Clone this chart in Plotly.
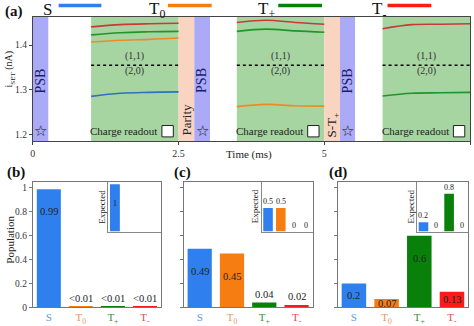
import plotly.graph_objects as go

# ---------------- data: panel (a) ----------------
phase_start = [0.0, 0.27, 1.0, 2.5, 2.77, 3.04, 3.5, 5.0, 5.27, 5.53, 6.0]
phase_end = [0.27, 1.0, 2.5, 2.77, 3.04, 3.5, 5.0, 5.27, 5.53, 6.0, 7.5]
phase_kind = ["PSB", "idle", "readout", "Parity", "PSB", "idle", "readout", "S-T+", "PSB", "idle", "readout"]

t_seg1 = [1.0, 1.5, 2.0, 2.5]
S_seg1 = [1.285, 1.292, 1.294, 1.295]
T0_seg1 = [1.407, 1.411, 1.413, 1.416]
Tp_seg1 = [1.423, 1.428, 1.430, 1.431]
Tm_seg1 = [1.441, 1.446, 1.448, 1.449]

t_seg2 = [3.5, 4.0, 4.5, 5.0]
T0_seg2 = [1.262, 1.267, 1.264, 1.263]
Tp_seg2 = [1.431, 1.436, 1.432, 1.429]
Tm_seg2 = [1.451, 1.456, 1.451, 1.447]

t_seg3 = [6.0, 6.5, 7.0, 7.5]
Tp_seg3 = [1.286, 1.292, 1.293, 1.294]
Tm_seg3 = [1.437, 1.446, 1.447, 1.448]

threshold = 1.355
time_ticks = [0, 2.5, 5, 7.5]
time_ticklabels = ["0", "2.5", "5", "7.5"]
current_ticks = [1.2, 1.3, 1.4]

# ---------------- data: panels (b)-(d) ----------------
states = ["S", "T<sub>0</sub>", "T<sub>+</sub>", "T<sub>-</sub>"]
pop_b = [0.99, 0.003, 0.003, 0.003]
pop_b_text = ["0.99", "<0.01", "<0.01", "<0.01"]
pop_c = [0.49, 0.45, 0.04, 0.02]
pop_c_text = ["0.49", "0.45", "0.04", "0.02"]
pop_d = [0.2, 0.07, 0.6, 0.13]
pop_d_text = ["0.2", "0.07", "0.6", "0.13"]
exp_b = [1, 0, 0, 0]
exp_b_text = ["1", "", "", ""]
exp_c = [0.5, 0.5, 0, 0]
exp_c_text = ["0.5", "0.5", "0", "0"]
exp_d = [0.2, 0, 0.8, 0]
exp_d_text = ["0.2", "0", "0.8", "0"]
pop_ticks = [0, 0.2, 0.4, 0.6, 0.8, 1]

# ---------------- styles ----------------
FONT = "Liberation Serif, DejaVu Serif, serif"
state_colors = ["#2f80ee", "#f57d12", "#08800a", "#ff1a1a"]
line_colors = {"S": "#2b72c0", "T0": "#ef8a22", "Tp": "#1f962a", "Tm": "#c83a36"}
tick_colors = ["#5c98ea", "#f0935a", "#3a8a3a", "#e5484d"]
phase_colors = {"PSB": "#aaaaf6", "idle": "#ffffff", "readout": "#a7d5a1",
                "Parity": "#f9d5c1", "S-T+": "#f9d5c1"}


def px(x):
    return x / 474.0


def py(y):
    return 1 - y / 326.0


def paper_note(x, y, text, size, color="#222", angle=0, family=FONT):
    return dict(x=px(x), y=py(y), xref="paper", yref="paper", text=text,
                xanchor="center", yanchor="middle", textangle=angle, showarrow=False,
                font=dict(family=family, size=size, color=color))


fig = go.Figure()

# ---------- panel (a) traces ----------
segs = [
    (t_seg1, [("S", S_seg1), ("T0", T0_seg1), ("Tp", Tp_seg1), ("Tm", Tm_seg1)]),
    (t_seg2, [("T0", T0_seg2), ("Tp", Tp_seg2), ("Tm", Tm_seg2)]),
    (t_seg3, [("Tp", Tp_seg3), ("Tm", Tm_seg3)]),
]
for t, series in segs:
    for key, vals in series:
        fig.add_trace(go.Scatter(x=t, y=vals, mode="lines", xaxis="x", yaxis="y",
                                 line=dict(color=line_colors[key], width=1.6, shape="spline"),
                                 showlegend=False, hoverinfo="skip"))

shapes = []
annotations = []
for s, e, k in zip(phase_start, phase_end, phase_kind):
    shapes.append(dict(type="rect", xref="x", yref="y domain", x0=s, x1=e, y0=0, y1=1,
                       fillcolor=phase_colors[k], line=dict(width=0), layer="below"))
    c = (s + e) / 2
    if k == "readout":
        fig.add_trace(go.Scatter(x=[s, e], y=[threshold, threshold], mode="lines",
                                 xaxis="x", yaxis="y",
                                 line=dict(color="black", width=1.4, dash="dot"),
                                 showlegend=False, hoverinfo="skip"))
        annotations.append(dict(x=c, y=threshold + 0.02, xref="x", yref="y", text="(1,1)",
                                showarrow=False, font=dict(family=FONT, size=10, color="#333")))
        annotations.append(dict(x=c, y=threshold - 0.014, xref="x", yref="y", text="(2,0)",
                                showarrow=False, font=dict(family=FONT, size=10, color="#333")))
        annotations.append(dict(x=e - 0.33, y=1.207, xref="x", yref="y", text="Charge readout",
                                xanchor="right", showarrow=False,
                                font=dict(family=FONT, size=11, color="#222")))
        shapes.append(dict(type="rect", xref="x", yref="y", x0=e - 0.285, x1=e - 0.09,
                           y0=1.194, y1=1.2195, fillcolor="white",
                           line=dict(color="#222", width=1)))
    elif k == "PSB":
        annotations.append(dict(x=c, y=1.32, xref="x", yref="y", text="PSB", textangle=-90,
                                showarrow=False, font=dict(family=FONT, size=14, color="#1c1c70")))
        annotations.append(dict(x=c, y=1.208, xref="x", yref="y", text="☆",
                                showarrow=False, font=dict(family="DejaVu Sans", size=15, color="#111")))
    elif k == "Parity":
        annotations.append(dict(x=c, y=1.234, xref="x", yref="y", text="Parity", textangle=-90,
                                showarrow=False, font=dict(family=FONT, size=13, color="#222")))
    elif k == "S-T+":
        annotations.append(dict(x=c, y=1.22, xref="x", yref="y", text="S-T<sub>+</sub>",
                                textangle=-90, showarrow=False,
                                font=dict(family=FONT, size=13, color="#222")))

# legend (text then line)
leg = [("S", 45, 56, 99, state_colors[0]),
       ("T<sub>0</sub>", 155, 166, 210, state_colors[1]),
       ("T<sub>+</sub>", 265, 277, 321, state_colors[2]),
       ("T<sub>-</sub>", 378, 387, 431, state_colors[3])]
for txt, xc, l0, l1, col in leg:
    annotations.append(paper_note(xc, 10, txt, 17, "#111"))
    shapes.append(dict(type="line", xref="paper", yref="paper", x0=px(l0), x1=px(l1),
                       y0=py(5.5), y1=py(5.5), line=dict(color=col, width=3.5)))

annotations.append(paper_note(11, 12, "<b>(a)</b>", 15, "#111"))
annotations.append(paper_note(248, 158, "Time (ms)", 11))
annotations.append(paper_note(7, 70, "i<sub>SET</sub> (nA)", 10, angle=-90))

# ---------- panels (b)-(d) ----------
panels = [
    ("2", "5", pop_b, pop_b_text, exp_b, exp_b_text, (30, 159), (106, 159), "(b)", 13),
    ("3", "6", pop_c, pop_c_text, exp_c, exp_c_text, (181.7, 311.7), (260.3, 311.7), "(c)", 181),
    ("4", "7", pop_d, pop_d_text, exp_d, exp_d_text, (336.7, 468.3), (416.7, 468.3), "(d)", 337),
]
xpos = list(range(len(states)))
layout_axes = {}
for main, ins, pop, ptxt, exp, etxt, dom, idom, lab, labx in panels:
    fig.add_trace(go.Bar(x=xpos, y=pop, width=0.75, marker=dict(color=state_colors, line=dict(width=0)),
                         xaxis="x" + main, yaxis="y" + main, showlegend=False, hoverinfo="skip"))
    fig.add_trace(go.Bar(x=xpos, y=exp, width=0.75, marker=dict(color=state_colors, line=dict(width=0)),
                         xaxis="x" + ins, yaxis="y" + ins, showlegend=False, hoverinfo="skip"))
    for i, (v, t) in enumerate(zip(pop, ptxt)):
        if v > 0.3:
            yy, ya = v - 0.19, "middle"
        elif v > 0.05:
            yy, ya = v / 2, "middle"
        else:
            yy, ya = v + 0.005, "bottom"
        annotations.append(dict(x=i, y=yy, xref="x" + main, yref="y" + main, text=t,
                                yanchor=ya, showarrow=False,
                                font=dict(family=FONT, size=10.5, color="#222")))
    for i, (v, t) in enumerate(zip(exp, etxt)):
        if not t:
            continue
        if v > 0.9:
            yy, ya = v * 0.6, "middle"
        else:
            yy, ya = v, "bottom"
        annotations.append(dict(x=i, y=yy, xref="x" + ins, yref="y" + ins, text=t,
                                yanchor=ya, showarrow=False,
                                font=dict(family=FONT, size=8, color="#222")))
    annotations.append(paper_note(idom[0] - 6, 211, "Expected", 9, angle=-90))
    annotations.append(paper_note(labx, 176, "<b>" + lab + "</b>", 15, "#111"))
    ticktext = ['<span style="color:%s">%s</span>' % (c, s) for c, s in zip(tick_colors, states)]
    layout_axes["xaxis" + main] = dict(domain=[px(dom[0]), px(dom[1])], anchor="y" + main,
                                       range=[-0.5, 3.5], tickvals=xpos, ticktext=ticktext,
                                       showline=True, mirror=True, linecolor="#777", linewidth=1,
                                       ticks="", showgrid=False, zeroline=False,
                                       tickfont=dict(family=FONT, size=11))
    layout_axes["yaxis" + main] = dict(domain=[py(314), py(186)], anchor="x" + main,
                                       range=[0, 1.05], tickvals=pop_ticks,
                                       showticklabels=(main == "2"),
                                       showline=True, mirror=True, linecolor="#777", linewidth=1,
                                       ticks="outside", ticklen=3, tickcolor="#777",
                                       showgrid=False, zeroline=False,
                                       tickfont=dict(family=FONT, size=9.5, color="#333"))
    layout_axes["xaxis" + ins] = dict(domain=[px(idom[0]), px(idom[1])], anchor="y" + ins,
                                      range=[-0.5, 3.5], showticklabels=False, ticks="",
                                      showline=True, linecolor="#888", linewidth=1,
                                      showgrid=False, zeroline=False)
    layout_axes["yaxis" + ins] = dict(domain=[py(236.7), py(186)], anchor="x" + ins,
                                      range=[0, 1.05], showticklabels=False, ticks="",
                                      showline=True, linecolor="#888", linewidth=1,
                                      showgrid=False, zeroline=False)

annotations.append(paper_note(7, 245, "Population", 11, angle=-90))

fig.update_layout(
    width=474, height=326,
    margin=dict(l=0, r=0, t=0, b=0),
    paper_bgcolor="white", plot_bgcolor="rgba(0,0,0,0)",
    bargap=0.25,
    xaxis=dict(domain=[px(30), px(470)], anchor="y", range=[0, 7.5],
               tickvals=time_ticks, ticktext=time_ticklabels,
               showline=True, mirror=True, linecolor="#444", linewidth=1,
               ticks="outside", ticklen=3, tickcolor="#444", showgrid=False, zeroline=False,
               tickfont=dict(family=FONT, size=10, color="#333")),
    yaxis=dict(domain=[py(144), py(17)], anchor="x", range=[1.185, 1.464],
               tickvals=current_ticks, showline=True, mirror=True, linecolor="#444", linewidth=1,
               ticks="outside", ticklen=3, tickcolor="#444", showgrid=False, zeroline=False,
               tickfont=dict(family=FONT, size=9.5, color="#333")),
    shapes=shapes,
    annotations=annotations,
    **layout_axes,
)

fig.write_html("out.html")
